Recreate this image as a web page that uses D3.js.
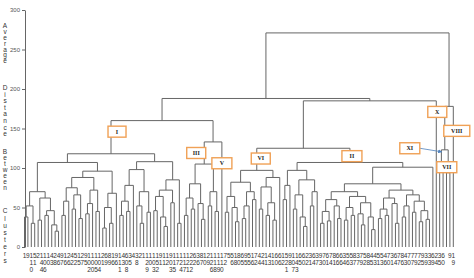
<!DOCTYPE html>
<meta charset="utf-8">
<head>
  <title>Dendrogram - average distance between clusters</title>
</head>

<style>
body { margin: 0; background: #fff; }
svg { display: block; }
.link { fill: none; stroke: #666; stroke-width: 1; }
.axis text { font: 6px "Liberation Sans", Arial, sans-serif; fill: #555; }
.axis path, .axis line { stroke: #666; }
.leaf-label { font: 6.5px "Liberation Sans", Arial, sans-serif; fill: #333; }
.title-letter { font: 6.5px "Liberation Sans", Arial, sans-serif; fill: #333; }
.box rect { fill: #fff; stroke: #f0a156; stroke-width: 1.4; }
.box text { font: bold 6px "Liberation Serif", "DejaVu Serif", serif; fill: #222; }
</style>

<body>
  <svg width="474" height="278"></svg>

  <script src="https://cdnjs.cloudflare.com/ajax/libs/d3/7.8.5/d3.min.js"></script>
  <script>

// every node is [height, left, right]; L is a single observation (leaf)
const L = 'L';

const clusterI = [118,
  [107,
    [70, [52, [38, L, L], [30, L, L]], [62, [34, L, L], [46, [40, L, L], [28, L, [20, L, L]]]]],
    [96,
      [88, [75, [58, [40, L, L], L], [66, [48, L, L], [36, L, L]]], [72, [55, [42, L, L], L], [45, L, L]]],
      [68, [50, [24, L, L], [30, L, L]], L]
    ]
  ],
  [108,
    [98, [78, [58, [40, L, L], [45, L, L]], L], [70, [52, L, [30, L, L]], [44, L, L]]],
    [85, [72, [64, [46, L, L], [38, L, [26, L, L]]], [56, L, L]], [30, L, L]]
  ]
];

const clusterIII = [105,
  [80, [62, [40, L, L], [48, L, L]], [55, L, [35, L, L]]],
  [70, [52, L, L], [45, L, L]]
];

const clusterVI = [97,
  [82, [64, [44, L, L], [50, L, [32, L, L]]], [70, [52, [36, L, L], L], [60, L, L]]],
  [88, [76, [48, L, L], [56, [40, L, L], [34, L, L]]], L]
];

const clusterIIa = [97,
  [78, [60, L, L], L],
  [85, [66, [48, L, L], [38, L, [26, L, L]]], [70, [52, L, L], L]]
];

const clusterIIb = [101,
  [80,
    [70,
      [60, [45, [30, L, L], [33, L, L]], [52, L, [36, L, L]]],
      [64, [50, [34, L, L], [40, L, L]], [56, [42, L, [28, L, L]], [38, L, [22, L, L]]]]
    ],
    [72,
      [62, [48, [36, L, L], [40, L, L]], [55, L, [30, L, L]]],
      [66, [52, [38, L, L], L], [58, [44, L, L], [46, [32, L, L], [35, L, L]]]]
    ]
  ],
  L
];

const clusterVIII = [123, [100, L, L], [94, L, L]];

const clusterII = [107, clusterIIa, clusterIIb];
const groupIIIV = [133, clusterIII, L];           // V is one observation
const groupB = [160, clusterI, groupIIIV];
const groupD = [125, clusterVI, clusterII];
const groupC = [185, groupD, L];                  // X is one observation
const groupR = [178, clusterVIII, L];
const root = [271, [188, groupB, groupC], groupR];

// leaf labels, one digit per line (first, second, third digit)
const labelRow1 = '1915211142491245129111126819146343211111911911111263812111175518695174214166159116623639767866355837584455473678477779336236 91';
const labelRow2 = '  11 400386766225750000199661305 8  200511201721222670921112 680555624413106228045021473014166463779285313601476307925939450  9';
const labelRow3 = '  0  46            2054     1 8     9 32   35 4712     6890                  1 73';

const yTicks = [0, 50, 100, 150, 200, 250, 300];
const yTitleWords = ['Average', 'Distance', 'Between', 'Clusters'];

const boxes = [
  {text: 'I', node: clusterI, h: 146, dx: 6, w: 18},
  {text: 'III', node: clusterIII, h: 119, dx: -8, w: 19},
  {text: 'V', leaf: 58, h: 106, dx: 0, w: 20},
  {text: 'VI', node: clusterVI, h: 112, dx: 4, w: 19},
  {text: 'II', node: clusterII, h: 115, dx: 2, w: 20},
  {text: 'X', leaf: 121, h: 171, dx: 1, w: 19},
  {text: 'VIII', node: clusterVIII, h: 147, dx: 12, w: 26},
  {text: 'VII', node: clusterVIII, h: 101, dx: 2, w: 20},
  {text: 'XI', node: clusterVIII, h: 125, dx: -35, w: 20, arrow: true}
];

const svg = d3.select('svg');

let leafCount = 0;
const leaves = [];
const nodeOf = new Map();
function build(d) {
    if (d === L) {
        const leaf = {leaf: true, index: leafCount++, h: 0};
        leaves.push(leaf);
        return leaf;
    }
    const n = {h: d[0], children: d.slice(1).map(build)};
    nodeOf.set(d, n);
    return n;
}
const tree = build(root);

const x = d3.scalePoint().domain(d3.range(leafCount)).range([24.5, 453.3]);
const y = d3.scaleLinear().domain([0, 300]).range([247, 10]);

function place(n) {
    if (n.leaf) { n.x = x(n.index); n.y = y(0); return; }
    n.children.forEach(place);
    n.x = d3.mean(n.children, c => c.x);
    n.y = y(n.h);
}
place(tree);

const internal = [];
(function walk(n) { if (!n.leaf) { internal.push(n); n.children.forEach(walk); } })(tree);

svg.append('g').selectAll('path')
    .data(internal)
    .enter().append('path')
    .attr('class', 'link')
    .attr('d', n => {
        const [a, b] = n.children;
        return `M${a.x},${a.y}V${n.y}H${b.x}V${b.y}`;
    });

// y axis
svg.append('g')
    .attr('class', 'axis')
    .attr('transform', 'translate(25,0)')
    .call(d3.axisLeft(y).tickValues(yTicks).tickSize(3).tickSizeOuter(0).tickPadding(2));

// vertical title, letters stacked
const wordStart = [26.7, 88.3, 152.7, 211.7];
const wordStep = [5.8, 6.6, 5.9, 7.1];
yTitleWords.forEach((w, wi) => {
    svg.append('g').selectAll('text')
        .data(w.split(''))
        .enter().append('text')
        .attr('class', 'title-letter')
        .attr('x', 5)
        .attr('y', (c, i) => wordStart[wi] + i * wordStep[wi])
        .attr('text-anchor', 'middle')
        .attr('dominant-baseline', 'middle')
        .text(c => c);
});

// leaf labels
const rows = [labelRow1, labelRow2, labelRow3];
const rowY = [256, 263, 270];
rows.forEach((row, ri) => {
    svg.append('g').selectAll('text')
        .data(leaves.filter(l => (row[l.index] || ' ') !== ' '))
        .enter().append('text')
        .attr('class', 'leaf-label')
        .attr('x', l => l.x)
        .attr('y', rowY[ri])
        .attr('text-anchor', 'middle')
        .attr('dominant-baseline', 'middle')
        .text(l => row[l.index]);
});

// cluster boxes
svg.append('defs').append('marker')
    .attr('id', 'arrow')
    .attr('viewBox', '0 0 10 10')
    .attr('refX', 9).attr('refY', 5)
    .attr('markerWidth', 5).attr('markerHeight', 5)
    .attr('orient', 'auto')
    .append('path').attr('d', 'M0,0L10,5L0,10z').attr('fill', '#4f81bd');

boxes.forEach(b => {
    const n = b.leaf !== undefined ? leaves[b.leaf] : nodeOf.get(b.node);
    const cx = n.x + b.dx, cy = y(b.h);
    if (b.arrow) {
        svg.append('line')
            .attr('x1', cx + b.w / 2).attr('y1', cy)
            .attr('x2', n.x - 3).attr('y2', n.y + 2)
            .attr('stroke', '#4f81bd').attr('stroke-width', 0.8)
            .attr('marker-end', 'url(#arrow)');
    }
    const g = svg.append('g').attr('class', 'box');
    g.append('rect')
        .attr('x', cx - b.w / 2).attr('y', cy - 5.5)
        .attr('width', b.w).attr('height', 11);
    g.append('text')
        .attr('x', cx).attr('y', cy + 0.5)
        .attr('text-anchor', 'middle')
        .attr('dominant-baseline', 'middle')
        .text(b.text);
});

  </script>
</body>
</html>
